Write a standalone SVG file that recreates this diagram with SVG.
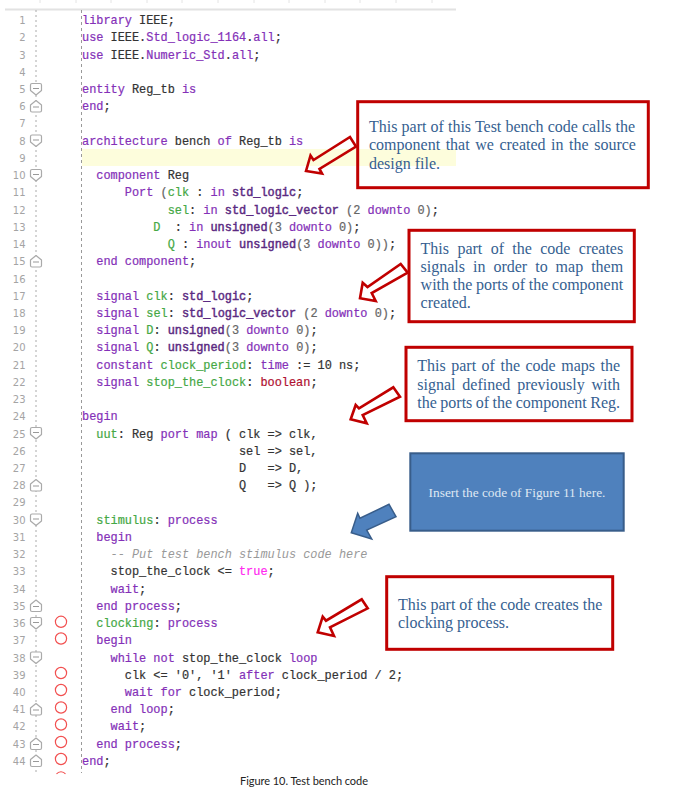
<svg xmlns="http://www.w3.org/2000/svg" width="687" height="789" viewBox="0 0 687 789">
<style>
.code text{font:11.9px "Liberation Mono",monospace;white-space:pre;fill:#333;stroke:#333;stroke-width:.2}
.k{fill:#8430b8;stroke:#8430b8}.g{fill:#45a845;stroke:#45a845}.t{fill:#5b2a82;stroke:#5b2a82;stroke-width:.45}.c{fill:#999;stroke:none;font-style:italic}.m{fill:#ff2af0;stroke:#ff2af0}.r{fill:#b01030;stroke:#b01030}.n{fill:#666;stroke:#666}
.num text{font:10px "DejaVu Sans",sans-serif;fill:#a4a4a4;text-anchor:end}
.fold{fill:#fff;stroke:#aaa;stroke-width:1.2;stroke-linejoin:round}
.bp{fill:none;stroke:#f25050;stroke-width:1.2}
.box{fill:none;stroke:#c00000;stroke-width:3}
.note{font:16px "Liberation Serif",serif;fill:#365f91}
.arrow{fill:none;stroke:#c00000;stroke-width:2.6;stroke-linejoin:miter}
</style>
<defs>
<g id="fs"><path class="fold" d="M-4,-5.5H4Q5.5,-5.5 5.5,-4V1.5L0,6L-5.5,1.5V-4Q-5.5,-5.5 -4,-5.5Z"/><path d="M-3,-0.5H3" stroke="#999"/></g>
<g id="fe"><path class="fold" d="M-4,5.5H4Q5.5,5.5 5.5,4V-1.5L0,-6L-5.5,-1.5V4Q-5.5,5.5 -4,5.5Z"/><path d="M-3,0.5H3" stroke="#999"/></g>
</defs>
<rect width="687" height="789" fill="#fff"/>
<g id="gutter">
<path d="M5,9.5H456" stroke="#e2e2e2" stroke-width="2"/>
<path d="M40,0V3M76,0V3M111,0V3M147,0V3M182,0V3M218,0V3M254,0V3M289,0V3M325,0V3M360,0V3M396,0V3M432,0V3" stroke="#e4e4e4"/>
<path d="M36,10V775" stroke="#aaa" stroke-dasharray="2 3" fill="none"/>
<path d="M81.5,10V773" stroke="#999" stroke-dasharray="3 3" fill="none"/>
<rect x="82" y="149" width="374" height="17" fill="#fdfddc"/>
<g class="num">
<text x="25.5" y="24">1</text><text x="25.5" y="41.2">2</text><text x="25.5" y="58.5">3</text><text x="25.5" y="75.7">4</text><text x="25.5" y="92.9">5</text><text x="25.5" y="110.2">6</text><text x="25.5" y="127.4">7</text><text x="25.5" y="144.6">8</text><text x="25.5" y="161.8">9</text><text x="25.5" y="179.1">10</text><text x="25.5" y="196.3">11</text><text x="25.5" y="213.5">12</text><text x="25.5" y="230.8">13</text><text x="25.5" y="248">14</text><text x="25.5" y="265.2">15</text><text x="25.5" y="282.5">16</text><text x="25.5" y="299.7">17</text><text x="25.5" y="316.9">18</text><text x="25.5" y="334.1">19</text><text x="25.5" y="351.4">20</text><text x="25.5" y="368.6">21</text><text x="25.5" y="385.8">22</text><text x="25.5" y="403.1">23</text><text x="25.5" y="420.3">24</text><text x="25.5" y="437.5">25</text><text x="25.5" y="454.8">26</text><text x="25.5" y="472">27</text><text x="25.5" y="489.2">28</text><text x="25.5" y="506.4">29</text><text x="25.5" y="523.7">30</text><text x="25.5" y="540.9">31</text><text x="25.5" y="558.1">32</text><text x="25.5" y="575.4">33</text><text x="25.5" y="592.6">34</text><text x="25.5" y="609.8">35</text><text x="25.5" y="627.1">36</text><text x="25.5" y="644.3">37</text><text x="25.5" y="661.5">38</text><text x="25.5" y="678.7">39</text><text x="25.5" y="696">40</text><text x="25.5" y="713.2">41</text><text x="25.5" y="730.4">42</text><text x="25.5" y="747.7">43</text><text x="25.5" y="764.9">44</text>
</g>
<use href="#fs" x="36" y="89"/><use href="#fe" x="36" y="106.5"/><use href="#fs" x="36" y="140.5"/><use href="#fs" x="36" y="175"/><use href="#fe" x="36" y="261.5"/><use href="#fs" x="36" y="433"/><use href="#fe" x="36" y="485.5"/><use href="#fs" x="36" y="519.5"/><use href="#fe" x="36" y="606"/><use href="#fs" x="36" y="623"/><use href="#fs" x="36" y="657.5"/><use href="#fe" x="36" y="709.5"/><use href="#fe" x="36" y="744"/><use href="#fe" x="36" y="761"/>
<g class="bp">
<circle cx="61" cy="621.8" r="5.6"/><circle cx="61" cy="638.5" r="5.6"/><circle cx="61" cy="673" r="5.6"/><circle cx="61" cy="690" r="5.6"/><circle cx="61" cy="707.5" r="5.6"/><circle cx="61" cy="724.5" r="5.6"/><circle cx="61" cy="742" r="5.6"/><circle cx="61" cy="759" r="5.6"/>
<path d="M56.5,774A5.6,5.6 0 0 1 65.5,774"/>
</g>
</g>
<g id="code" class="code">
<text x="82" y="24"><tspan class="k">library</tspan> IEEE;</text>
<text x="82" y="41.2"><tspan class="k">use</tspan> IEEE.<tspan class="k">Std_logic_1164</tspan>.<tspan class="k">all</tspan>;</text>
<text x="82" y="58.5"><tspan class="k">use</tspan> IEEE.<tspan class="k">Numeric_Std</tspan>.<tspan class="k">all</tspan>;</text>
<text x="82" y="92.9"><tspan class="k">entity</tspan> Reg_tb <tspan class="k">is</tspan></text>
<text x="82" y="110.2"><tspan class="k">end</tspan>;</text>
<text x="82" y="144.6"><tspan class="k">architecture</tspan> bench <tspan class="k">of</tspan> Reg_tb <tspan class="k">is</tspan></text>
<text x="82" y="179.1">  <tspan class="k">component</tspan> Reg</text>
<text x="82" y="196.3">      <tspan class="k">Port</tspan> <tspan class="n">(</tspan><tspan class="g">clk</tspan> : <tspan class="k">in</tspan> <tspan class="t">std_logic</tspan>;</text>
<text x="82" y="213.5">            <tspan class="g">sel</tspan>: <tspan class="k">in</tspan> <tspan class="t">std_logic_vector</tspan> <tspan class="n">(2</tspan> <tspan class="k">downto</tspan> <tspan class="n">0)</tspan>;</text>
<text x="82" y="230.8">          <tspan class="g">D</tspan>  : <tspan class="k">in</tspan> <tspan class="t">unsigned</tspan><tspan class="n">(3</tspan> <tspan class="k">downto</tspan> <tspan class="n">0)</tspan>;</text>
<text x="82" y="248">            <tspan class="g">Q</tspan> : <tspan class="k">inout</tspan> <tspan class="t">unsigned</tspan><tspan class="n">(3</tspan> <tspan class="k">downto</tspan> <tspan class="n">0))</tspan>;</text>
<text x="82" y="265.2">  <tspan class="k">end component</tspan>;</text>
<text x="82" y="299.7">  <tspan class="k">signal</tspan> <tspan class="g">clk</tspan>: <tspan class="t">std_logic</tspan>;</text>
<text x="82" y="316.9">  <tspan class="k">signal</tspan> <tspan class="g">sel</tspan>: <tspan class="t">std_logic_vector</tspan> <tspan class="n">(2</tspan> <tspan class="k">downto</tspan> <tspan class="n">0)</tspan>;</text>
<text x="82" y="334.1">  <tspan class="k">signal</tspan> <tspan class="g">D</tspan>: <tspan class="t">unsigned</tspan><tspan class="n">(3</tspan> <tspan class="k">downto</tspan> <tspan class="n">0)</tspan>;</text>
<text x="82" y="351.4">  <tspan class="k">signal</tspan> <tspan class="g">Q</tspan>: <tspan class="t">unsigned</tspan><tspan class="n">(3</tspan> <tspan class="k">downto</tspan> <tspan class="n">0)</tspan>;</text>
<text x="82" y="368.6">  <tspan class="k">constant</tspan> <tspan class="g">clock_period</tspan>: <tspan class="k">time</tspan> := 10 ns;</text>
<text x="82" y="385.8">  <tspan class="k">signal</tspan> <tspan class="g">stop_the_clock</tspan>: <tspan class="r">boolean</tspan>;</text>
<text x="82" y="420.3"><tspan class="k">begin</tspan></text>
<text x="82" y="437.5">  <tspan class="g">uut</tspan>: Reg <tspan class="k">port map</tspan> ( clk =&gt; clk,</text>
<text x="82" y="454.8">                      sel =&gt; sel,</text>
<text x="82" y="472">                      D   =&gt; D,</text>
<text x="82" y="489.2">                      Q   =&gt; Q );</text>
<text x="82" y="523.7">  <tspan class="g">stimulus</tspan>: <tspan class="k">process</tspan></text>
<text x="82" y="540.9">  <tspan class="k">begin</tspan></text>
<text x="82" y="558.1">    <tspan class="c">-- Put test bench stimulus code here</tspan></text>
<text x="82" y="575.4">    stop_the_clock &lt;= <tspan class="m">true</tspan>;</text>
<text x="82" y="592.6">    <tspan class="k">wait</tspan>;</text>
<text x="82" y="609.8">  <tspan class="k">end process</tspan>;</text>
<text x="82" y="627.1">  <tspan class="g">clocking</tspan>: <tspan class="k">process</tspan></text>
<text x="82" y="644.3">  <tspan class="k">begin</tspan></text>
<text x="82" y="661.5">    <tspan class="k">while not</tspan> stop_the_clock <tspan class="k">loop</tspan></text>
<text x="82" y="678.7">      clk &lt;= '0', '1' <tspan class="k">after</tspan> clock_period / 2;</text>
<text x="82" y="696">      <tspan class="k">wait for</tspan> clock_period;</text>
<text x="82" y="713.2">    <tspan class="k">end loop</tspan>;</text>
<text x="82" y="730.4">    <tspan class="k">wait</tspan>;</text>
<text x="82" y="747.7">  <tspan class="k">end process</tspan>;</text>
<text x="82" y="764.9"><tspan class="k">end</tspan>;</text>
</g>
<g id="connectors">
<polygon class="arrow" points="306,171 310.5,155.5 313.5,160 350,137 356,146.5 319.5,169 322,173.5"/>
<polygon class="arrow" points="360,298.3 362.7,282.7 367.5,287 400.7,264 407.7,272.7 371.7,293 375.7,301"/>
<polygon class="arrow" points="350.7,419.3 355.7,405 359,408.3 393.3,387.3 400,396.7 362.7,415 366.7,423.3"/>
<polygon points="351.3,532.7 357.7,513.3 360,518.3 389,504.3 396,516.7 366.7,530 371.7,539" fill="#4f81bd" stroke="#385d8a" stroke-width="1.5"/>
<polygon class="arrow" points="317.7,632.3 322.7,616.7 326,620.7 361.7,599.3 367.7,608.3 330,627.3 334,636"/>
</g>
<g id="note-component">
<rect class="box" x="357.7" y="101.7" width="290.6" height="86"/>
<text class="note" x="369" y="131.7" word-spacing="0.1">This part of this Test bench code calls the</text>
<text class="note" x="369" y="150" word-spacing="1.55">component that we created in the source</text>
<text class="note" x="369" y="168.6">design file.</text>
</g>
<g id="note-signals">
<rect class="box" x="409" y="230.3" width="225.3" height="91.4"/>
<text class="note" x="420.6" y="254" word-spacing="4.36">This part of the code creates</text>
<text class="note" x="420.6" y="271.7" word-spacing="3.98">signals in order to map them</text>
<text class="note" x="420.6" y="290" word-spacing="-0.28">with the ports of the component</text>
<text class="note" x="420.6" y="308.3">created.</text>
</g>
<g id="note-portmap">
<rect class="box" x="406" y="347.3" width="226" height="73.4"/>
<text class="note" x="417.3" y="370.7" word-spacing="1.5">This part of the code maps the</text>
<text class="note" x="417.3" y="389.7" word-spacing="2.83">signal defined previously with</text>
<text class="note" x="417.3" y="408.3" word-spacing="-0.52">the ports of the component Reg.</text>
</g>
<g id="note-insert">
<rect x="410.3" y="453.3" width="213.4" height="77.4" fill="#4f81bd" stroke="#385d8a" stroke-width="2"/>
<text x="428.6" y="496.7" font-family="Liberation Serif, serif" font-size="13.33" fill="#dfe8f3">Insert the code of Figure 11 here.</text>
</g>
<g id="note-clocking">
<rect class="box" x="386.7" y="576.7" width="226" height="72.6"/>
<text class="note" x="398" y="610">This part of the code creates the</text>
<text class="note" x="398" y="627.7">clocking process.</text>
</g>
<text id="caption" x="240" y="785" font-family="Lato, sans-serif" font-size="11" textLength="128" fill="#222">Figure 10. Test bench code</text>
</svg>
